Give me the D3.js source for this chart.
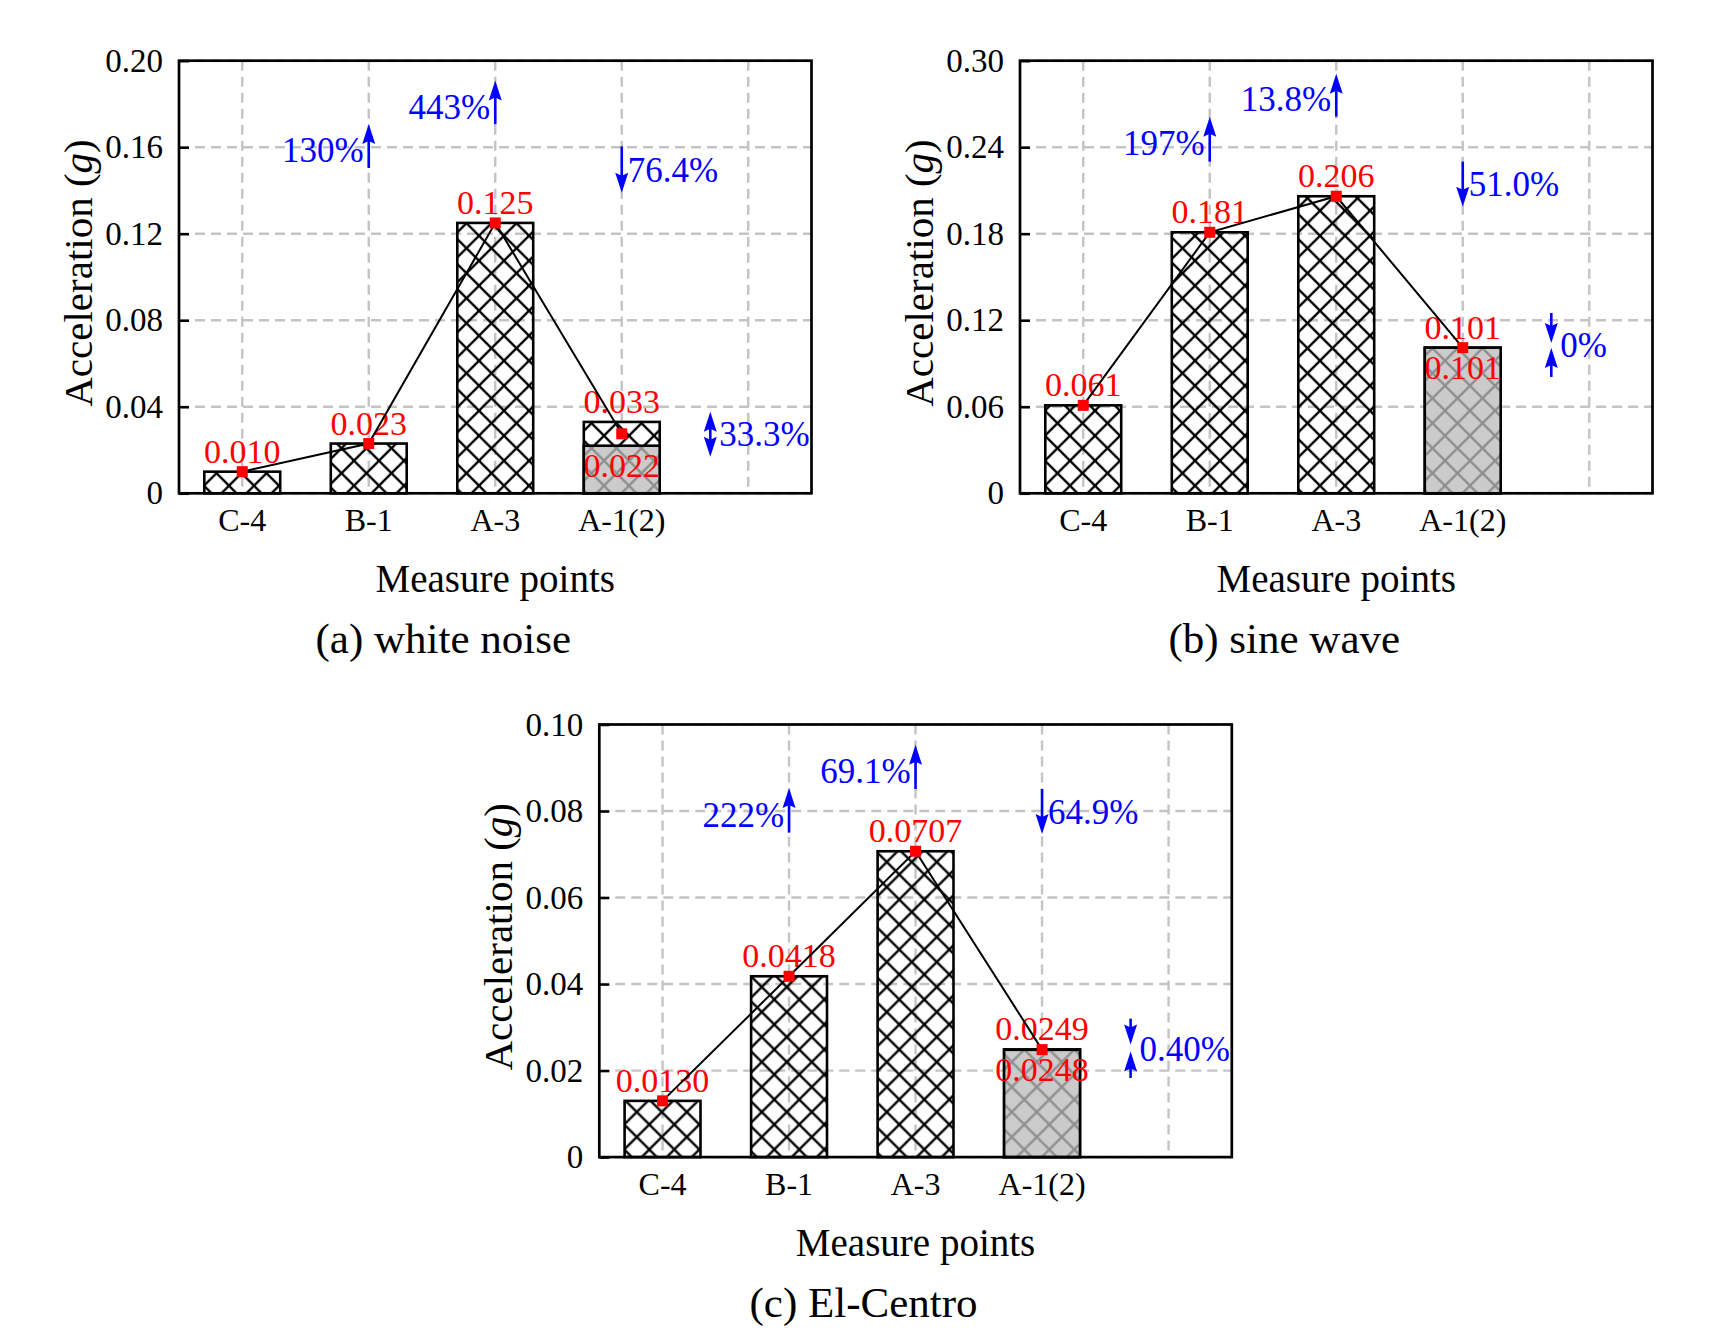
<!DOCTYPE html>
<html>
<head>
<meta charset="utf-8">
<script src="https://cdn.jsdelivr.net/npm/d3@7"></script>
<style>
  body { margin: 0; background: #fff; }
  text { font-family: "Liberation Serif", "Times New Roman", serif; }
</style>
</head>
<body>
<svg width="1725" height="1328"></svg>
<script>
// categories (the 5th slot on the x axis is left empty)
const categories = ["C-4", "B-1", "A-3", "A-1(2)"];
const slotCount = 5;

// peak acceleration (g); the last bar has a grey lower part
const whiteNoise = [0.010, 0.023, 0.125, 0.033];
const whiteNoiseBase = 0.022;
const sineWave = [0.061, 0.181, 0.206, 0.101];
const sineWaveBase = 0.101;
const elCentro = [0.0130, 0.0418, 0.0707, 0.0249];
const elCentroBase = 0.0248;

// y ticks
const ticksA = [0, 0.04, 0.08, 0.12, 0.16, 0.20];
const tickLabelsA = ["0", "0.04", "0.08", "0.12", "0.16", "0.20"];
const ticksB = [0, 0.06, 0.12, 0.18, 0.24, 0.30];
const tickLabelsB = ["0", "0.06", "0.12", "0.18", "0.24", "0.30"];
const ticksC = [0, 0.02, 0.04, 0.06, 0.08, 0.10];
const tickLabelsC = ["0", "0.02", "0.04", "0.06", "0.08", "0.10"];

// percentage changes
const pctA = ["130%", "443%", "76.4%", "33.3%"];
const pctB = ["197%", "13.8%", "51.0%", "0%"];
const pctC = ["222%", "69.1%", "64.9%", "0.40%"];

// where the blue arrows sit (slot index, values in g)
const arrowsA = [
  {at: 1, kind: "up", from: 0.1504, to: 0.1707},
  {at: 2, kind: "up", from: 0.1706, to: 0.1909},
  {at: 3, kind: "down", from: 0.1604, to: 0.1390},
  {at: 3.7, kind: "out", from: 0.0377, to: 0.0169}
];
const arrowsB = [
  {at: 1, kind: "up", from: 0.230, to: 0.2612},
  {at: 2, kind: "up", from: 0.2612, to: 0.291},
  {at: 3, kind: "down", from: 0.230, to: 0.1987},
  {at: 3.7, kind: "in", from: 0.1250, to: 0.1042, from2: 0.0807, to2: 0.1008}
];
const arrowsC = [
  {at: 1, kind: "up", from: 0.0750, to: 0.0853},
  {at: 2, kind: "up", from: 0.0851, to: 0.0953},
  {at: 3, kind: "down", from: 0.0851, to: 0.0747},
  {at: 3.7, kind: "in", from: 0.0320, to: 0.0260, from2: 0.0183, to2: 0.0244}
];

const W = 632.5, H = 432.6;
const blue = "#0000ff", red = "#ff0000";

const panels = [
  {left: 179, top: 60.7, values: whiteNoise, base: whiteNoiseBase, ticks: ticksA, tickLabels: tickLabelsA,
   fmt: ".3f", pct: pctA, arrows: arrowsA, caption: "(a) white noise"},
  {left: 1020, top: 60.7, values: sineWave, base: sineWaveBase, ticks: ticksB, tickLabels: tickLabelsB,
   fmt: ".3f", pct: pctB, arrows: arrowsB, caption: "(b) sine wave"},
  {left: 599.3, top: 724.5, values: elCentro, base: elCentroBase, ticks: ticksC, tickLabels: tickLabelsC,
   fmt: ".4f", pct: pctC, arrows: arrowsC, caption: "(c) El-Centro"}
];

const svg = d3.select("svg");
svg.append("rect").attr("width", 1725).attr("height", 1328).attr("fill", "#fff");

// hatch patterns
const defs = svg.append("defs");
const hatch = defs.append("pattern").attr("id", "hatch")
    .attr("patternUnits", "userSpaceOnUse").attr("width", 25).attr("height", 25);
hatch.append("path").attr("d", "M-3,-3L28,28M-3,28L28,-3")
    .attr("stroke", "#000").attr("stroke-width", 2.3);
const hatchGray = defs.append("pattern").attr("id", "hatchGray")
    .attr("patternUnits", "userSpaceOnUse").attr("width", 25).attr("height", 25);
hatchGray.append("rect").attr("width", 25).attr("height", 25).attr("fill", "#cbcbcb");
hatchGray.append("path").attr("d", "M-3,-3L28,28M-3,28L28,-3")
    .attr("stroke", "#8e8e8e").attr("stroke-width", 2.3);

function arrowHead(g, x, yTip, dir) {
  // dir = -1 points up, +1 points down
  const L = 20, hw = 6.5;
  g.append("path")
      .attr("d", `M${x},${yTip}L${x - hw},${yTip - dir * L}L${x},${yTip - dir * L * 0.85}L${x + hw},${yTip - dir * L}Z`)
      .attr("fill", blue);
}

function arrow(g, x, yTail, yTip) {
  const dir = yTip > yTail ? 1 : -1;
  g.append("line").attr("x1", x).attr("x2", x)
      .attr("y1", yTail).attr("y2", yTip - dir * 14)
      .attr("stroke", blue).attr("stroke-width", 2.6);
  arrowHead(g, x, yTip, dir);
}

function drawPanel(p) {
  const g = svg.append("g").attr("transform", `translate(${p.left},${p.top})`);
  const y = d3.scaleLinear().domain([0, p.ticks[p.ticks.length - 1]]).range([H, 0]);
  const x = d3.scaleBand().domain(d3.range(slotCount)).range([0, W]);
  const xa = d3.scaleLinear().domain([-0.5, slotCount - 0.5]).range([0, W]);
  const cx = i => x(i) + x.bandwidth() / 2;
  const bw = x.bandwidth() * 0.6;

  // grid
  g.append("g").selectAll("line").data(p.ticks).join("line")
      .attr("x1", 0).attr("x2", W).attr("y1", d => y(d)).attr("y2", d => y(d))
      .attr("stroke", "#c4c4c4").attr("stroke-width", 2.4).attr("stroke-dasharray", "10,6");
  g.append("g").selectAll("line").data(d3.range(slotCount)).join("line")
      .attr("x1", cx).attr("x2", cx).attr("y1", 0).attr("y2", H)
      .attr("stroke", "#c4c4c4").attr("stroke-width", 2.4).attr("stroke-dasharray", "10,6");

  // bars
  g.append("g").selectAll("rect").data(p.values).join("rect")
      .attr("x", (d, i) => cx(i) - bw / 2).attr("y", d => y(d))
      .attr("width", bw).attr("height", d => H - y(d))
      .attr("fill", "url(#hatch)").attr("stroke", "#000").attr("stroke-width", 2.6);
  g.append("rect")
      .attr("x", cx(3) - bw / 2).attr("y", y(p.base))
      .attr("width", bw).attr("height", H - y(p.base))
      .attr("fill", "url(#hatchGray)").attr("stroke", "#000").attr("stroke-width", 2.6);

  // red value labels
  const fmt = d3.format(p.fmt);
  g.append("g").selectAll("text").data(p.values).join("text")
      .attr("x", (d, i) => cx(i)).attr("y", d => y(d) - 9)
      .attr("text-anchor", "middle").attr("font-size", 34).attr("fill", red)
      .text(d => fmt(d));
  g.append("text")
      .attr("x", cx(3)).attr("y", y(p.base) + 31)
      .attr("text-anchor", "middle").attr("font-size", 34).attr("fill", red)
      .text(fmt(p.base));

  // line + markers
  const pts = p.values.map((v, i) => i === 3 ? (v + p.base) / 2 : v);
  g.append("path").datum(pts)
      .attr("d", d3.line().x((d, i) => cx(i)).y(d => y(d)))
      .attr("fill", "none").attr("stroke", "#000").attr("stroke-width", 2);
  g.append("g").selectAll("rect").data(pts).join("rect")
      .attr("x", (d, i) => cx(i) - 5.5).attr("y", d => y(d) - 5.5)
      .attr("width", 11).attr("height", 11).attr("fill", red);

  // blue arrows and percentages
  p.arrows.forEach((a, i) => {
    const ax = xa(a.at);
    const t = g.append("text").attr("font-size", 35).attr("fill", blue).attr("dy", "0.35em").text(p.pct[i]);
    if (a.kind === "up" || a.kind === "down") {
      arrow(g, ax, y(a.from), y(a.to));
      const mid = (y(a.from) + y(a.to)) / 2;
      if (a.kind === "up") t.attr("x", ax - 5).attr("text-anchor", "end").attr("y", mid + 4);
      else t.attr("x", ax + 6).attr("y", mid);
    } else if (a.kind === "out") {
      const y1 = y(a.from), y2 = y(a.to);
      g.append("line").attr("x1", ax).attr("x2", ax).attr("y1", y1 + 14).attr("y2", y2 - 14)
          .attr("stroke", blue).attr("stroke-width", 2.6);
      arrowHead(g, ax, y1, -1);
      arrowHead(g, ax, y2, 1);
      t.attr("x", ax + 9).attr("y", (y1 + y2) / 2);
    } else {
      arrow(g, ax, y(a.from), y(a.to));
      arrow(g, ax, y(a.from2), y(a.to2));
      t.attr("x", ax + 9).attr("y", (y(a.from) + y(a.from2)) / 2);
    }
  });

  // frame
  g.append("rect").attr("width", W).attr("height", H)
      .attr("fill", "none").attr("stroke", "#000").attr("stroke-width", 2.7);

  // axes
  g.append("g")
      .call(d3.axisLeft(y).tickValues(p.ticks).tickFormat((d, i) => p.tickLabels[i]).tickSize(-10).tickPadding(16))
      .attr("font-size", 33).attr("font-family", "Liberation Serif")
      .call(a => a.select(".domain").remove())
      .call(a => a.selectAll("line").attr("stroke", "#000").attr("stroke-width", 2.5))
      .call(a => a.selectAll("text").attr("fill", "#000"));
  g.append("g").attr("transform", `translate(0,${H})`)
      .call(d3.axisBottom(x).tickValues(d3.range(categories.length)).tickFormat(i => categories[i]).tickSize(0).tickPadding(15))
      .attr("font-size", 32).attr("font-family", "Liberation Serif")
      .call(a => a.select(".domain").remove())
      .call(a => a.selectAll("text").attr("fill", "#000"));

  // titles
  g.append("text").attr("x", W / 2).attr("y", H + 99)
      .attr("text-anchor", "middle").attr("font-size", 39)
      .text("Measure points");
  const yt = g.append("text")
      .attr("transform", `translate(-87,${H / 2 - 4}) rotate(-90)`)
      .attr("text-anchor", "middle").attr("font-size", 41);
  yt.append("tspan").text("Acceleration (");
  yt.append("tspan").attr("font-style", "italic").text("g");
  yt.append("tspan").text(")");
  g.append("text").attr("x", W / 2 - 52).attr("y", H + 160)
      .attr("text-anchor", "middle").attr("font-size", 43)
      .text(p.caption);
}

panels.forEach(drawPanel);
</script>
</body>
</html>
